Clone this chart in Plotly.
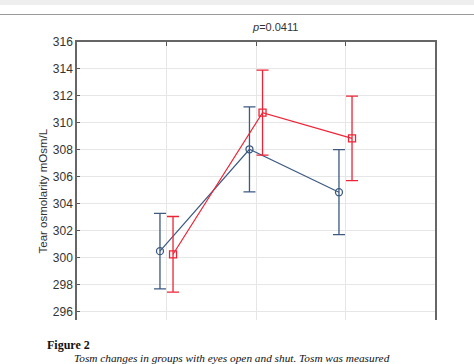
import plotly.graph_objects as go

groups = [1, 2, 3]
offset = 0.073
blue_mean = [300.5, 308.05, 304.87]
blue_err = [2.8, 3.15, 3.15]
red_mean = [300.27, 310.77, 308.86]
red_err = [2.8, 3.15, 3.13]
y_ticks = [296, 298, 300, 302, 304, 306, 308, 310, 312, 314, 316]

blue = "#3c5a82"
red = "#ee2436"

W, H = 474, 364
L, R, T, B = 77, 39, 42, 44
PW, PH = W - L - R, H - T - B


def px(x):
    return (x - L) / PW


def py(y):
    return (H - B - y) / PH


fig = go.Figure()
fig.add_trace(go.Scatter(
    x=[g - offset for g in groups], y=blue_mean, mode="lines+markers",
    line=dict(color=blue, width=1.2),
    marker=dict(symbol="circle-open", size=7, color=blue, line=dict(width=1.3)),
    error_y=dict(type="data", array=blue_err, color=blue, thickness=1.3, width=6),
    showlegend=False))
fig.add_trace(go.Scatter(
    x=[g + offset for g in groups], y=red_mean, mode="lines+markers",
    line=dict(color=red, width=1.2),
    marker=dict(symbol="square-open", size=7, color=red, line=dict(width=1.3)),
    error_y=dict(type="data", array=red_err, color=red, thickness=1.3, width=6),
    showlegend=False))

fig.update_layout(
    width=W, height=H,
    margin=dict(l=L, r=R, t=T, b=B),
    paper_bgcolor="white", plot_bgcolor="white",
    font=dict(family="Liberation Sans, Arial", size=11, color="#333"),
    xaxis=dict(range=[0, 4], tickvals=groups, showticklabels=False, side="top",
               ticks="inside", ticklen=4, tickcolor="#555",
               showgrid=True, gridcolor="#e6e6e6", gridwidth=1,
               showline=True, linecolor="#666", linewidth=1.5, mirror=False,
               zeroline=False),
    yaxis=dict(range=[295.4, 316], tickvals=y_ticks, ticks="inside", ticklen=3,
               tickcolor="#555", showgrid=True, gridcolor="#e6e6e6", gridwidth=1,
               showline=True, linecolor="#666", linewidth=1.5, mirror=True,
               zeroline=False, tickfont=dict(size=12, color="#333"),
               automargin=False),
    annotations=[
        # top grey strip and separator line of the page
        dict(text=" ", xref="paper", yref="paper", x=px(0), y=py(0),
             xanchor="left", yanchor="top", width=474, height=5,
             bgcolor="#eeeeee", borderpad=0, borderwidth=0, showarrow=False,
             font=dict(size=2)),
        dict(text=" ", xref="paper", yref="paper", x=px(0), y=py(13.5),
             xanchor="left", yanchor="top", width=474, height=1,
             bgcolor="#9a9a9a", borderpad=0, borderwidth=0, showarrow=False,
             font=dict(size=1)),
        dict(text="Tear osmolarity mOsm/L", xref="paper", yref="paper",
             x=px(42.5), y=py(191), textangle=-90, showarrow=False,
             font=dict(size=11.5, color="#333"), xanchor="center", yanchor="middle"),
        dict(text="<i>p</i>=0.0411", xref="paper", yref="paper",
             x=px(275), y=py(27), showarrow=False,
             font=dict(size=11, color="#333"), xanchor="center", yanchor="middle"),
        dict(text="<b>Figure 2</b>", xref="paper", yref="paper",
             x=px(45), y=py(345), showarrow=False,
             font=dict(family="Liberation Serif", size=12, color="#111"),
             xanchor="left", yanchor="middle"),
        dict(text="<i>Tosm changes in groups with eyes open and shut. Tosm was measured</i>",
             xref="paper", yref="paper",
             x=px(72), y=py(357.5), showarrow=False,
             font=dict(family="Liberation Serif", size=11.3, color="#111"),
             xanchor="left", yanchor="middle"),
    ],
)

fig.write_html("out.html", config={"displayModeBar": False})
with open("out.html", "r", encoding="utf-8") as f:
    html = f.read()
html = html.replace("<head>", "<head><style>html,body{margin:0;padding:0;overflow:hidden;}</style>", 1)
with open("out.html", "w", encoding="utf-8") as f:
    f.write(html)
